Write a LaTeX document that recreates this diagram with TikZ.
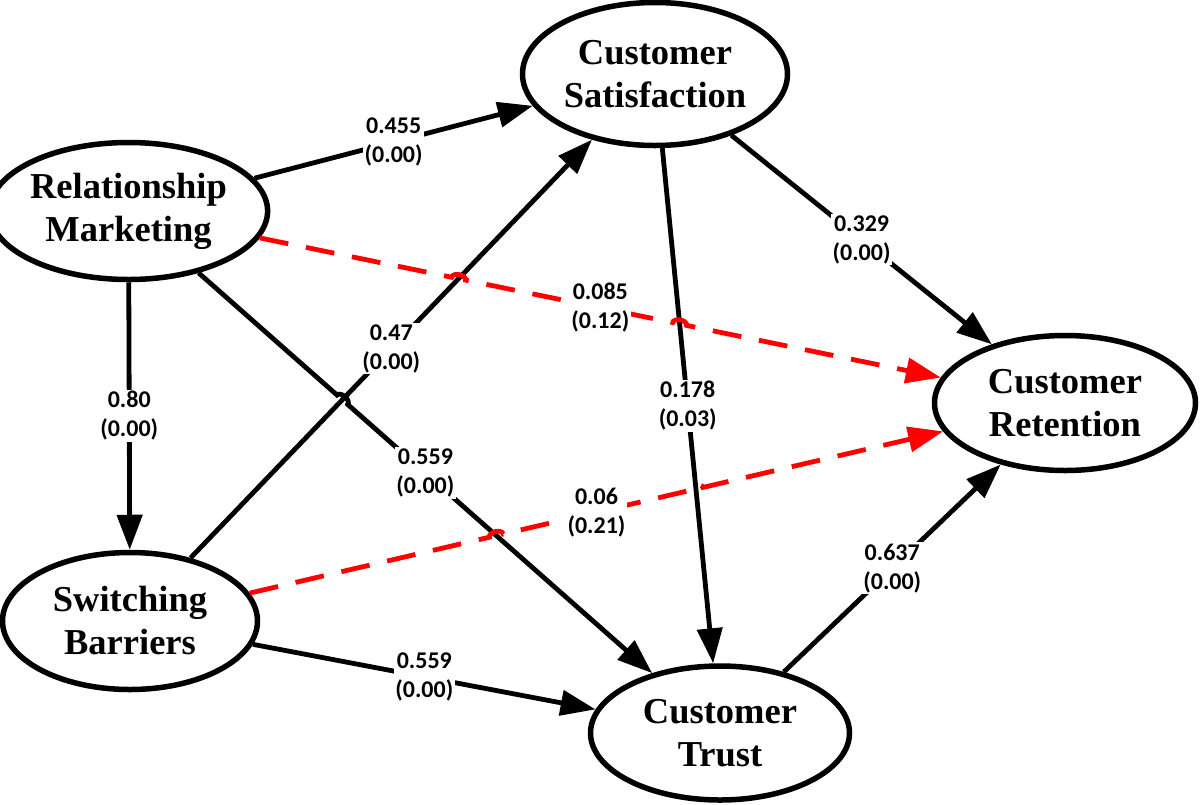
\documentclass[tikz,border=0pt]{standalone}
\usepackage{fontspec}
\setmainfont{Liberation Serif}
\newfontfamily\lblfont{Carlito}
\usetikzlibrary{shapes.geometric,arrows.meta,intersections,calc}
\begin{document}
\begin{tikzpicture}[x=1pt,y=-1pt,
  var/.style={draw, ellipse, line width=5.5pt, inner sep=0pt, align=center,
    font=\fontsize{36.5}{43}\selectfont\bfseries},
  conn/.style={line width=4.8pt, -{Triangle[length=35pt,width=25pt]}},
  dconn/.style={conn, red, dash pattern=on 29pt off 18pt},
  lbl/.style={fill=white, inner sep=1.5pt, align=center,
    font=\lblfont\fontsize{24}{29}\selectfont\bfseries}
]
\useasboundingbox (0,0) rectangle (1200,804);

\node[var, minimum width=265pt, minimum height=143pt] (cs) at (655,74) {Customer\\Satisfaction};
\node[var, minimum width=252pt, minimum height=137pt] (rm) at (128.5,211) {Relationship\\Marketing};
\node[var, minimum width=261pt, minimum height=135pt] (cr) at (1065,403) {Customer\\Retention};
\node[var, minimum width=255pt, minimum height=137pt] (sb) at (130,621) {Switching\\Barriers};
\node[var, minimum width=259pt, minimum height=134pt] (ct) at (720,733) {Customer\\Trust};

% crossing helpers
\path[name path=sbcs] (sb) -- (cs);
\path[name path=rmct] (rm) -- (ct);
\path[name path=csct] (cs) -- (ct);
\path[name path=rmcr] (rm) -- (cr);
\path[name path=sbcr] (sb) -- (cr);
\path[name intersections={of=sbcs and rmct, by=h1}];
\path[name intersections={of=sbcs and rmcr, by=h2}];
\path[name intersections={of=csct and rmcr, by=h3}];
\path[name intersections={of=rmct and sbcr, by=h4}];
\path[name intersections={of=csct and sbcr, by=h5}];

% connectors
\draw[conn] (rm) -- (cs);
\draw[conn] (rm) -- (sb);
\draw[conn] (sb) -- (cs);
\draw[conn] (sb) -- (ct);
\draw[conn] (cs) -- (ct);
\draw[conn] (cs) -- (cr);
\draw[conn] (ct) -- (cr);
\draw[conn] (rm) -- ($(h1)!7pt!(rm)$) to[bend left=90] ($(h1)!7pt!(ct)$) -- (ct);
\draw[dconn] (rm) -- ($(h2)!7pt!(rm)$) to[bend left=90] ($(h2)!7pt!(cr)$)
  -- ($(h3)!7pt!(rm)$) to[bend left=90] ($(h3)!7pt!(cr)$) -- (cr);
\draw[dconn] (sb) -- ($(h4)!7pt!(sb)$) to[bend left=90] ($(h4)!7pt!(cr)$)
  -- ($(h5)!7pt!(sb)$) to[bend left=90] ($(h5)!7pt!(cr)$) -- (cr);

% labels
\path (rm) -- (cs) node[lbl, midway] {0.455\\(0.00)};
\path (rm) -- (sb) node[lbl, midway] {0.80\\(0.00)};
\path (sb) -- (cs) node[lbl, midway] {0.47\\(0.00)};
\path (rm) -- (ct) node[lbl, midway] {0.559\\(0.00)};
\path (sb) -- (ct) node[lbl, midway] {0.559\\(0.00)};
\path (cs) -- (ct) node[lbl, midway] {0.178\\(0.03)};
\path (cs) -- (cr) node[lbl, midway] {0.329\\(0.00)};
\path (ct) -- (cr) node[lbl, midway] {0.637\\(0.00)};
\path (rm) -- (cr) node[lbl, midway] {0.085\\(0.12)};
\path (sb) -- (cr) node[lbl, midway] {0.06\\(0.21)};
\end{tikzpicture}
\end{document}
